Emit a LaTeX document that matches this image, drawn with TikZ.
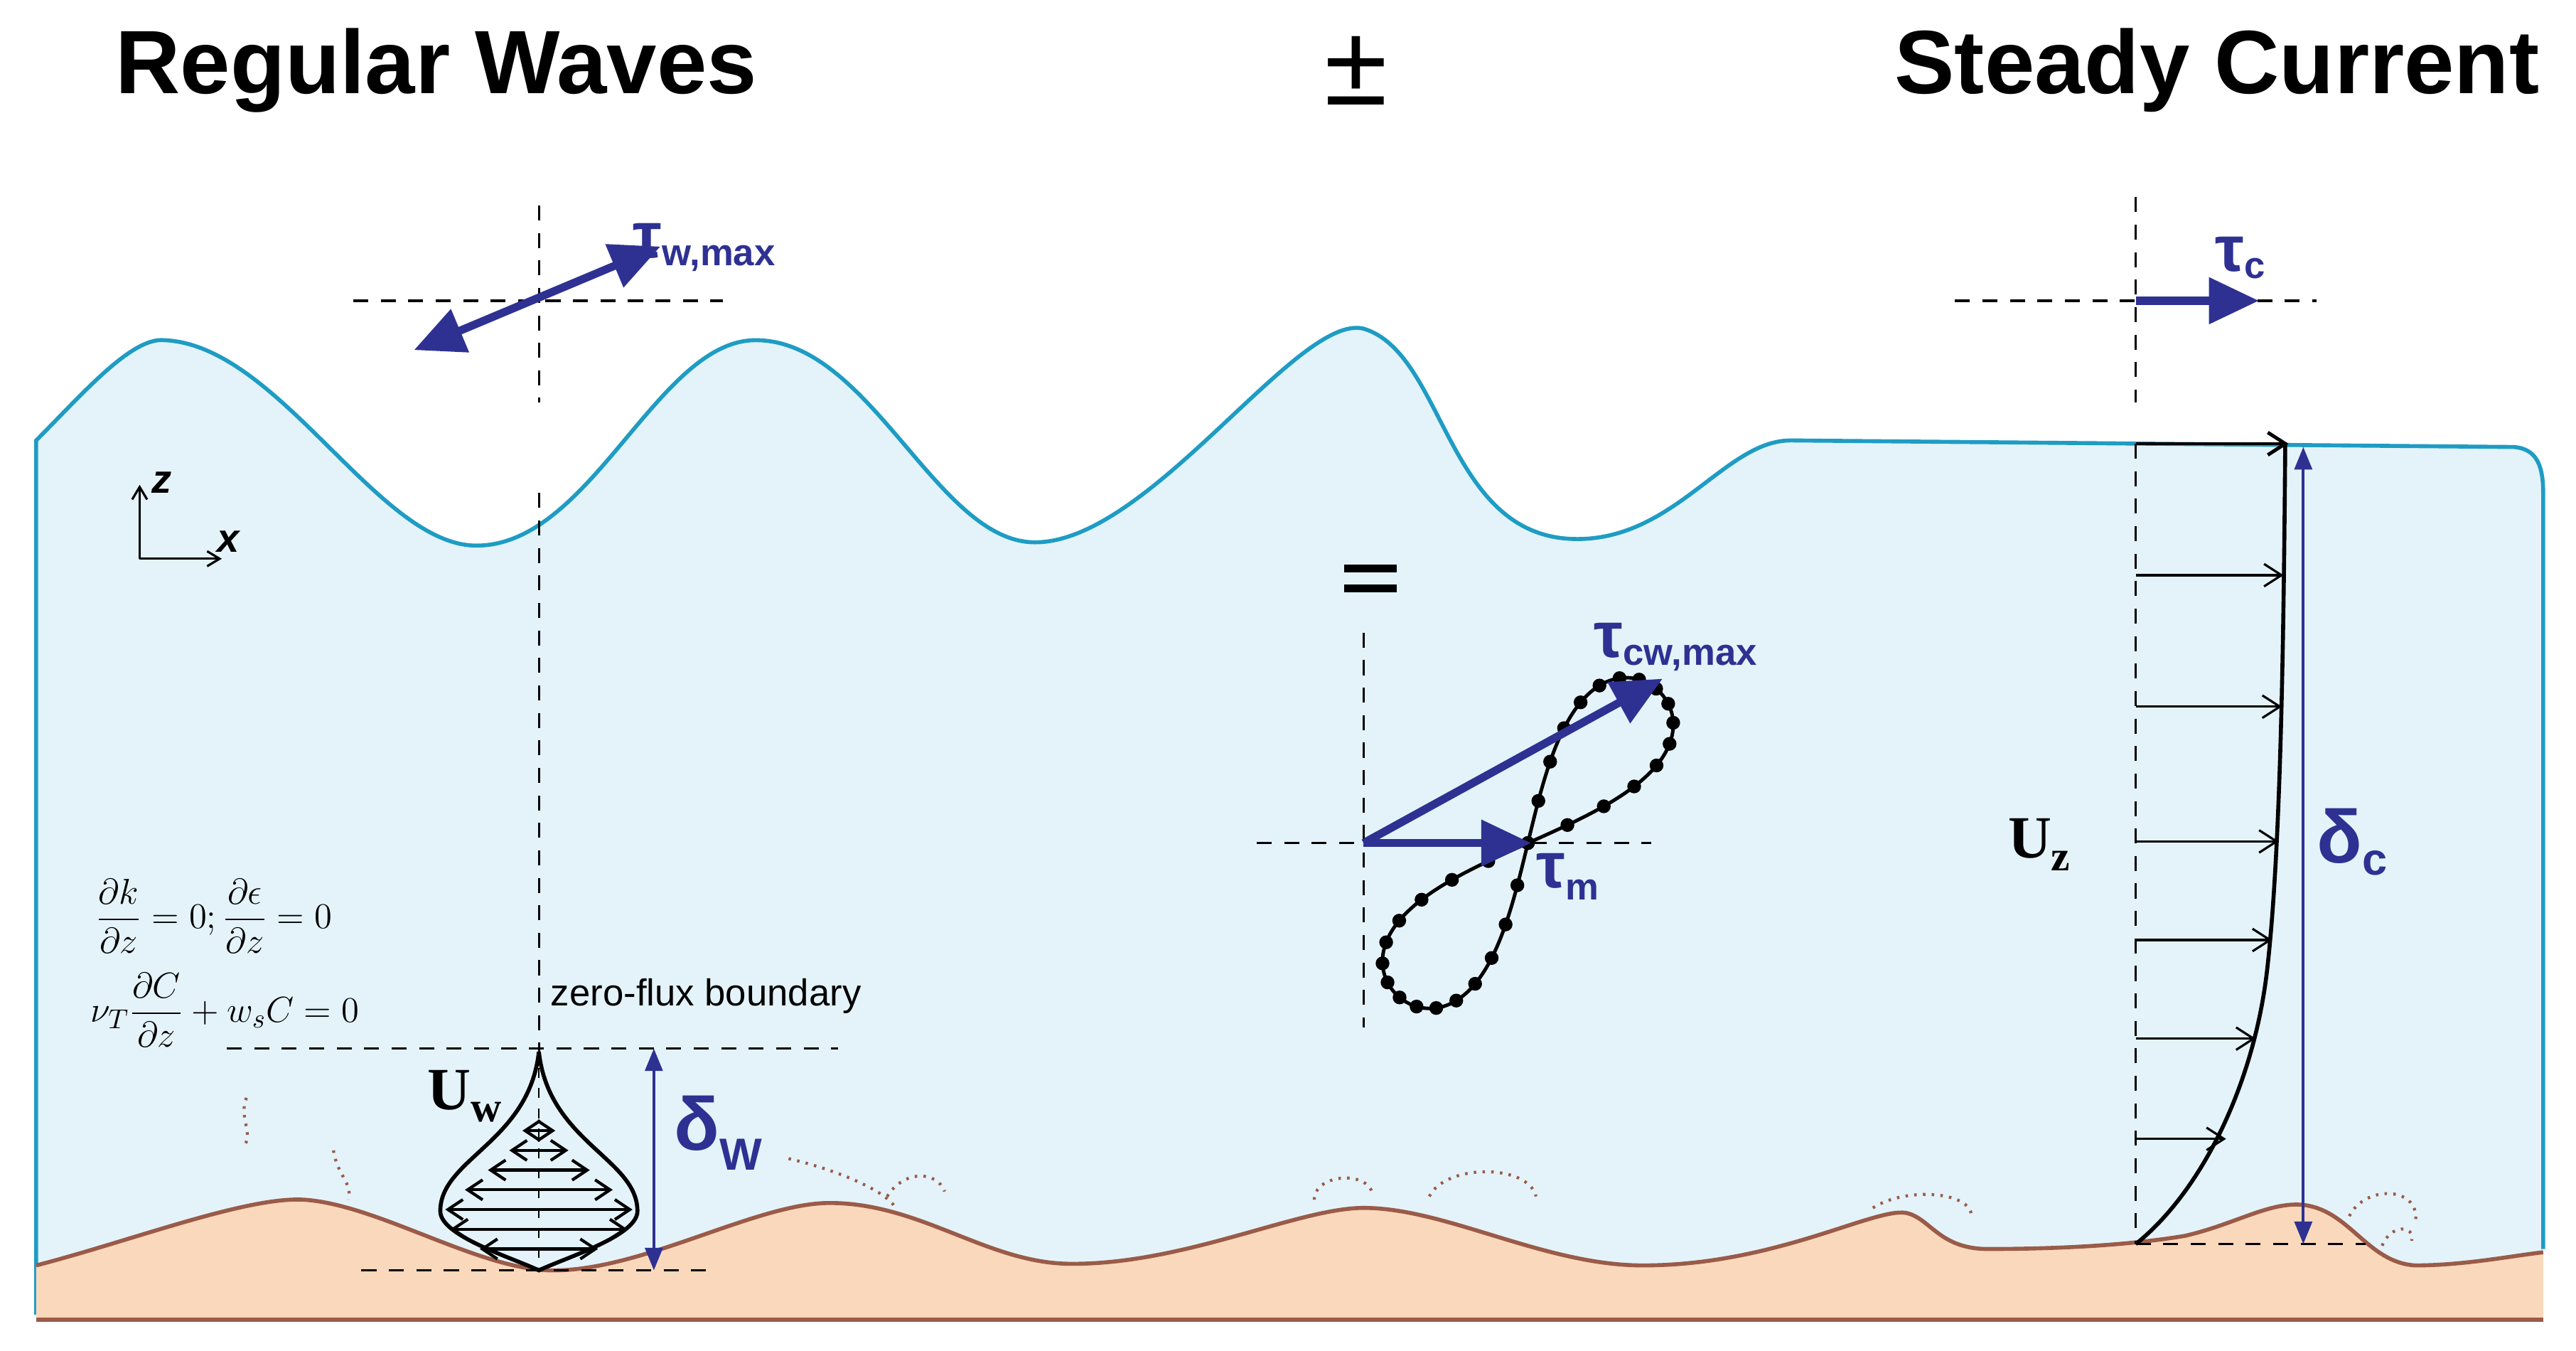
\documentclass[tikz,border=0pt]{standalone}
\usepackage{fontspec}
\setmainfont{Liberation Sans}
\newfontfamily\serifb{Liberation Serif}
\usetikzlibrary{arrows.meta}
\definecolor{water}{HTML}{E4F3FA}
\definecolor{surf}{HTML}{1E9CC4}
\definecolor{sand}{HTML}{FAD8BC}
\definecolor{bed}{HTML}{9A5B48}
\definecolor{dblue}{HTML}{2E3192}
\tikzset{
 dsh/.style={dashed,dash pattern=on 6pt off 5pt,line width=0.9pt},
 bigarr/.style={dblue,line width=3.2pt,-{Triangle[length=20pt,width=18pt]}},
 thinarr/.style={black,line width=0.9pt,-{Straight Barb[length=7pt,width=9pt]}},
 lbl/.style={inner sep=0pt,anchor=base west},
 sed/.style={bed,dash pattern=on 1pt off 2.5pt,line width=1.2pt}
}
\begin{document}
\begin{tikzpicture}[x=0.02311cm,y=-0.02311cm]
\useasboundingbox (0,0) rectangle (1568,822);
% water
\fill[water] (22,268) .. controls (50,240) and (80,205) .. (100,207)
 .. controls (170,210) and (230,332) .. (290,332)
 .. controls (360,332) and (400,207) .. (460,207)
 .. controls (530,207) and (570,330) .. (630,330)
 .. controls (700,330) and (790,190) .. (830,200)
 .. controls (880,215) and (880,328) .. (960,328)
 .. controls (1020,328) and (1050,268) .. (1090,268)
 -- (1530,272) .. controls (1545,273) and (1548,285) .. (1548,300)
 -- (1548,800) -- (22,800) -- cycle;
\draw[surf,line width=1.6pt] (22,800) -- (22,268) .. controls (50,240) and (80,205) .. (100,207)
 .. controls (170,210) and (230,332) .. (290,332)
 .. controls (360,332) and (400,207) .. (460,207)
 .. controls (530,207) and (570,330) .. (630,330)
 .. controls (700,330) and (790,190) .. (830,200)
 .. controls (880,215) and (880,328) .. (960,328)
 .. controls (1020,328) and (1050,268) .. (1090,268)
 -- (1530,272) .. controls (1545,273) and (1548,285) .. (1548,300) -- (1548,760);
% sand
\fill[sand] (22,770) .. controls (80,755) and (150,728) .. (185,730)
 .. controls (230,733) and (290,772) .. (335,773)
 .. controls (390,774) and (460,732) .. (505,732)
 .. controls (560,732) and (600,768) .. (650,769)
 .. controls (720,770) and (790,735) .. (830,735)
 .. controls (880,735) and (940,770) .. (1000,770)
 .. controls (1080,770) and (1140,735) .. (1160,738)
 .. controls (1175,741) and (1180,760) .. (1210,760)
 .. controls (1260,760) and (1300,757) .. (1330,752)
 .. controls (1360,745) and (1380,732) .. (1400,733)
 .. controls (1430,735) and (1440,768) .. (1470,770)
 .. controls (1500,770) and (1530,764) .. (1548,762)
 -- (1548,803) -- (22,803) -- cycle;
\draw[bed,line width=1.6pt] (22,770) .. controls (80,755) and (150,728) .. (185,730)
 .. controls (230,733) and (290,772) .. (335,773)
 .. controls (390,774) and (460,732) .. (505,732)
 .. controls (560,732) and (600,768) .. (650,769)
 .. controls (720,770) and (790,735) .. (830,735)
 .. controls (880,735) and (940,770) .. (1000,770)
 .. controls (1080,770) and (1140,735) .. (1160,738)
 .. controls (1175,741) and (1180,760) .. (1210,760)
 .. controls (1260,760) and (1300,757) .. (1330,752)
 .. controls (1360,745) and (1380,732) .. (1400,733)
 .. controls (1430,735) and (1440,768) .. (1470,770)
 .. controls (1500,770) and (1530,764) .. (1548,762);
\draw[bed,line width=1.6pt] (22,803) -- (1548,803);
% sediment dots
\draw[sed] (150,668) .. controls (145,680) and (155,690) .. (148,698);
\draw[sed] (203,700) .. controls (205,715) and (215,720) .. (212,730);
\draw[sed] (480,705) .. controls (510,712) and (540,725) .. (545,735);
\draw[sed] (540,728) .. controls (550,712) and (570,712) .. (575,725);
\draw[sed] (800,730) .. controls (800,715) and (830,712) .. (835,725);
\draw[sed] (870,728) .. controls (880,708) and (930,708) .. (935,728);
\draw[sed] (1140,735) .. controls (1160,722) and (1200,725) .. (1200,740);
\draw[sed] (1430,740) .. controls (1440,720) and (1475,722) .. (1470,745);
\draw[sed] (1450,758) .. controls (1455,745) and (1470,745) .. (1468,755);
% titles
\node[lbl,font=\bfseries\fontsize{36}{40}\selectfont] (t1) at (70,57) {Regular Waves};
\node[lbl,font=\fontsize{46}{50}\selectfont] (t2) at (806,64) {±};
\node[lbl,font=\bfseries\fontsize{36}{40}\selectfont] (t3) at (1153,57) {Steady Current};
% axes
\coordinate (ax) at (85,340);
\draw[line width=0.9pt,-{Straight Barb[length=5pt,width=6pt]}] (ax) -- ++(0,-45);
\draw[line width=0.9pt,-{Straight Barb[length=5pt,width=6pt]}] (ax) -- ++(50,0);
\node[lbl,font=\bfseries\itshape\fontsize{16}{16}\selectfont] (az) at (92,300) {z};
\node[lbl,font=\bfseries\itshape\fontsize{16}{16}\selectfont] (axx) at (132,336) {x};
% left wave stress
\draw[dsh] (328,125) -- (328,245);
\draw[dsh] (215,183) -- (440,183);
\coordinate (wa) at (252,213); \coordinate (wb) at (402,150);
\draw[dblue,line width=3.2pt,{Triangle[length=20pt,width=18pt]}-{Triangle[length=20pt,width=18pt]}] (wa) -- (wb);
\node[lbl,dblue,font=\bfseries\fontsize{26}{28}\selectfont] (twm) at (385,157) {τ\raisebox{-3pt}{\fontsize{15}{16}\selectfont w,max}};
\draw[dsh] (328,300) -- (328,640);
\draw[dsh] (138,638) -- (510,638);
\node[lbl,font=\fontsize{15}{17}\selectfont] (zf) at (335,612) {zero-flux boundary};
\node[lbl,font=\fontsize{15}{17}\selectfont] (eq1) at (58,565) {$\displaystyle\frac{\partial k}{\partial z}=0;\frac{\partial \epsilon}{\partial z}=0$};
\node[lbl,font=\fontsize{15}{17}\selectfont] (eq2) at (55,622) {$\displaystyle\nu_T\frac{\partial C}{\partial z}+w_sC=0$};
% Uw profile
\draw[line width=1.6pt] (328,640) .. controls (334,695) and (388,705) .. (388,737) .. controls (388,752) and (345,765) .. (328,773) .. controls (311,765) and (268,752) .. (268,737) .. controls (268,705) and (322,695) .. (328,640);
\foreach \yy/\ww in {688/10,700/18,712/31,724/45,736/57,748/54,760/36}
 \draw[line width=1.2pt,{Straight Barb[length=6pt,width=8pt]}-{Straight Barb[length=6pt,width=8pt]}] (328-\ww,\yy) -- (328+\ww,\yy);
\draw[dash pattern=on 4pt off 4pt,line width=0.7pt] (328,650) -- (328,770);
\node[lbl,font=\serifb\bfseries\fontsize{24}{26}\selectfont] (uw) at (260,675) {U\raisebox{-5pt}{\fontsize{17}{18}\selectfont w}};
\draw[dsh] (220,773) -- (435,773);
\coordinate (dwt) at (398,638); \coordinate (dwb) at (398,773);
\draw[dblue,line width=1.2pt,{Triangle[length=9pt,width=7pt]}-{Triangle[length=9pt,width=7pt]}] (dwt) -- (dwb);
\node[lbl,dblue,font=\bfseries\fontsize{30}{32}\selectfont] (dw) at (410,700) {δ\raisebox{-8pt}{\fontsize{18}{20}\selectfont W}};
% middle
\draw[line width=3pt] (818,346) -- (850,346);
\draw[line width=3pt] (818,358) -- (850,358);
\draw[dsh] (830,385) -- (830,625);
\draw[dsh] (765,513) -- (1005,513);
\coordinate (o) at (830,513);
\draw[black,line width=1.4pt] plot[domain=0:360,samples=120,smooth] ({930+122*sin(\x)*0.64+60*sin(\x)*cos(\x)*0.77},{513-122*sin(\x)*0.77+60*sin(\x)*cos(\x)*0.64});
\foreach \t in {0,11.25,...,349} \fill ({930+122*sin(\t)*0.64+60*sin(\t)*cos(\t)*0.77},{513-122*sin(\t)*0.77+60*sin(\t)*cos(\t)*0.64}) circle (4.2);
\coordinate (cw) at (1012,413); \coordinate (tm) at (932,513);
\draw[bigarr] (o) -- (cw);
\draw[bigarr] (o) -- (tm);
\node[lbl,dblue,font=\bfseries\fontsize{26}{28}\selectfont] (tcw) at (970,400) {τ\raisebox{-3pt}{\fontsize{15}{16}\selectfont cw,max}};
\node[lbl,dblue,font=\bfseries\fontsize{26}{28}\selectfont] (ttm) at (935,540) {τ\raisebox{-5pt}{\fontsize{15}{16}\selectfont m}};
% right
\draw[dsh] (1300,120) -- (1300,245);
\draw[dsh] (1190,183) -- (1410,183);
\coordinate (c0) at (1300,183); \coordinate (c1) at (1375,183);
\draw[bigarr] (c0) -- (c1);
\node[lbl,dblue,font=\bfseries\fontsize{26}{28}\selectfont] (tc) at (1348,165) {τ\raisebox{-3pt}{\fontsize{15}{16}\selectfont c}};
\draw[dsh] (1300,270) -- (1300,757);
\draw[line width=1.6pt] (1300,757) .. controls (1340,725) and (1372,660) .. (1380,590) .. controls (1388,520) and (1390,400) .. (1391,270);
\coordinate (p0) at (1300,270); \coordinate (p0e) at (1393,270);
\draw[thinarr,line width=1.4pt] (p0) -- (p0e);
\foreach \yy/\xx in {350/1390,430/1389,512/1387,572/1383,632/1373,693/1355}
 \draw[thinarr] (1300,\yy) -- (\xx,\yy);
\draw[dsh] (1300,757) -- (1440,757);
\coordinate (dct) at (1402,272); \coordinate (dcb) at (1402,757);
\draw[dblue,line width=1.2pt,{Triangle[length=9pt,width=7pt]}-{Triangle[length=9pt,width=7pt]}] (dct) -- (dcb);
\node[lbl,dblue,font=\bfseries\fontsize{30}{32}\selectfont] (dc) at (1410,525) {δ\raisebox{-5pt}{\fontsize{18}{20}\selectfont c}};
\node[lbl,font=\serifb\bfseries\fontsize{24}{26}\selectfont] (uz) at (1222,522) {U\raisebox{-5pt}{\fontsize{17}{18}\selectfont z}};
\end{tikzpicture}
\end{document}
